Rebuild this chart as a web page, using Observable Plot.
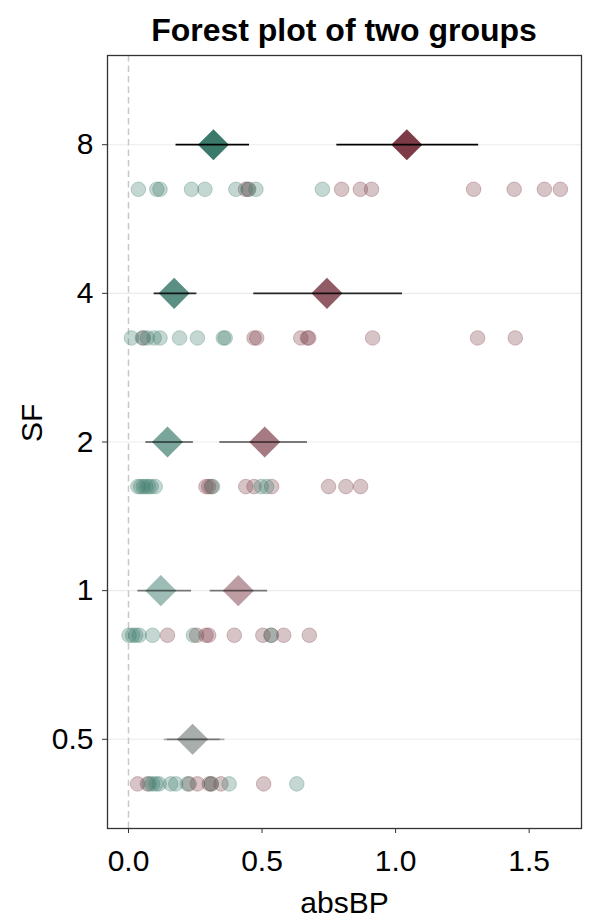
<!DOCTYPE html>
<html>
<head>
<meta charset="utf-8">
<script src="https://cdn.jsdelivr.net/npm/d3@7"></script>
<script src="https://cdn.jsdelivr.net/npm/@observablehq/plot@0.6"></script>
<style>
  body { margin: 0; background: white; font-family: "Liberation Sans", Arial, sans-serif; }
  #title {
    box-sizing: border-box; height: 47px; padding-top: 14px;
    margin-left: 107px; width: 474px; text-align: center;
    font-size: 32px; line-height: 32px; font-weight: bold; color: black;
  }
</style>
</head>
<body>
<div id="title">Forest plot of two groups</div>
<div id="myplot"></div>
<script>
// SF levels, bottom to top
const sfLevels = ["0.5", "1", "2", "4", "8"];
// transparency of the summary marks for each SF
const sfAlpha = [0.3, 0.5, 0.68, 0.84, 1];

const green = "#3b7a6b";
const red = "#7c3b47";

// raw absBP values per SF level (same order as sfLevels)
const greenPts = [
  [0.078, 0.09, 0.103, 0.115, 0.158, 0.177, 0.221, 0.31, 0.377, 0.63],
  [0.002, 0.015, 0.027, 0.04, 0.09, 0.243, 0.533],
  [0.035, 0.045, 0.055, 0.065, 0.075, 0.085, 0.1, 0.315, 0.497, 0.517],
  [0.011, 0.052, 0.071, 0.096, 0.118, 0.191, 0.258, 0.355, 0.362],
  [0.037, 0.106, 0.118, 0.236, 0.286, 0.402, 0.447, 0.477, 0.726]
];
const redPts = [
  [0.034, 0.071, 0.227, 0.258, 0.302, 0.31, 0.346, 0.506],
  [0.146, 0.255, 0.29, 0.30, 0.396, 0.503, 0.535, 0.581, 0.677],
  [0.29, 0.30, 0.31, 0.439, 0.47, 0.536, 0.749, 0.814, 0.869],
  [0.056, 0.47, 0.48, 0.645, 0.67, 0.675, 0.914, 1.307, 1.448],
  [0.438, 0.45, 0.798, 0.868, 0.91, 1.292, 1.444, 1.557, 1.617]
];

// group means and interval ends
const greenMean = [0.240, 0.121, 0.146, 0.171, 0.318];
const greenLo   = [0.146, 0.035, 0.065, 0.096, 0.178];
const greenHi   = [0.343, 0.236, 0.243, 0.256, 0.453];
const redMean   = [0.240, 0.411, 0.510, 0.743, 1.042];
const redLo     = [0.134, 0.306, 0.342, 0.469, 0.780];
const redHi     = [0.361, 0.521, 0.670, 1.026, 1.311];

const xTicks = [0, 0.5, 1, 1.5];

// tables for the marks
const points = [];
sfLevels.forEach((sf, i) => {
  redPts[i].forEach(v => points.push({x: v, y: i - 0.3, group: "red"}));
  greenPts[i].forEach(v => points.push({x: v, y: i - 0.3, group: "green"}));
});
const summary = [];
sfLevels.forEach((sf, i) => {
  summary.push({group: "red", y: i, mean: redMean[i], lo: redLo[i], hi: redHi[i], a: sfAlpha[i]});
  summary.push({group: "green", y: i, mean: greenMean[i], lo: greenLo[i], hi: greenHi[i], a: sfAlpha[i]});
});
const idx = sfLevels.map((d, i) => i);

const plot = Plot.plot({
  width: 595,
  height: 874,
  marginTop: 8,
  marginBottom: 93,
  marginLeft: 107,
  marginRight: 14,
  style: {fontFamily: "'Liberation Sans', Arial, sans-serif", background: "white", overflow: "visible"},
  x: {domain: [-0.0786, 1.696]},
  y: {domain: [-0.6, 4.6]},
  opacity: {type: "identity"},
  marks: [
    Plot.ruleY(idx, {y: d => d, stroke: "#ebebeb", strokeWidth: 1.1}),
    Plot.ruleX([0], {stroke: "#c8c8c8", strokeWidth: 1.5, strokeDasharray: "6.5,4"}),
    Plot.dot(points.filter(d => d.group == "red"), {
      x: "x", y: "y", r: 7.3, fill: red, fillOpacity: 0.3, stroke: red, strokeOpacity: 0.3, strokeWidth: 1
    }),
    Plot.dot(points.filter(d => d.group == "green"), {
      x: "x", y: "y", r: 7.3, fill: green, fillOpacity: 0.3, stroke: green, strokeOpacity: 0.3, strokeWidth: 1
    }),
    Plot.dot(summary.filter(d => d.group == "red"), {
      x: "mean", y: "y", symbol: "diamond2", r: 14, fill: red, fillOpacity: "a", stroke: null
    }),
    Plot.dot(summary.filter(d => d.group == "green"), {
      x: "mean", y: "y", symbol: "diamond2", r: 14, fill: green, fillOpacity: "a", stroke: null
    }),
    Plot.ruleY(summary, {y: "y", x1: "lo", x2: "hi", stroke: "black", strokeOpacity: "a", strokeWidth: 1.7}),
    Plot.frame({stroke: "#333", strokeWidth: 1.3}),
    Plot.axisX({ticks: xTicks, tickFormat: d3.format(".1f"), tickSize: 5, tickPadding: 16,
      fontSize: 30, stroke: "#333", fill: "black", label: null}),
    Plot.axisY({ticks: idx, tickFormat: i => sfLevels[i], tickSize: 5, tickPadding: 9,
      fontSize: 30, stroke: "#333", fill: "black", label: null}),
    Plot.text(["absBP"], {text: d => d, frameAnchor: "bottom", dy: 84, lineAnchor: "bottom", fontSize: 30, fill: "black"}),
    Plot.text(["SF"], {text: d => d, frameAnchor: "left", dx: -66, rotate: -90, lineAnchor: "bottom", fontSize: 30, fill: "black"})
  ]
});

document.querySelector("#myplot").append(plot);
</script>
</body>
</html>
